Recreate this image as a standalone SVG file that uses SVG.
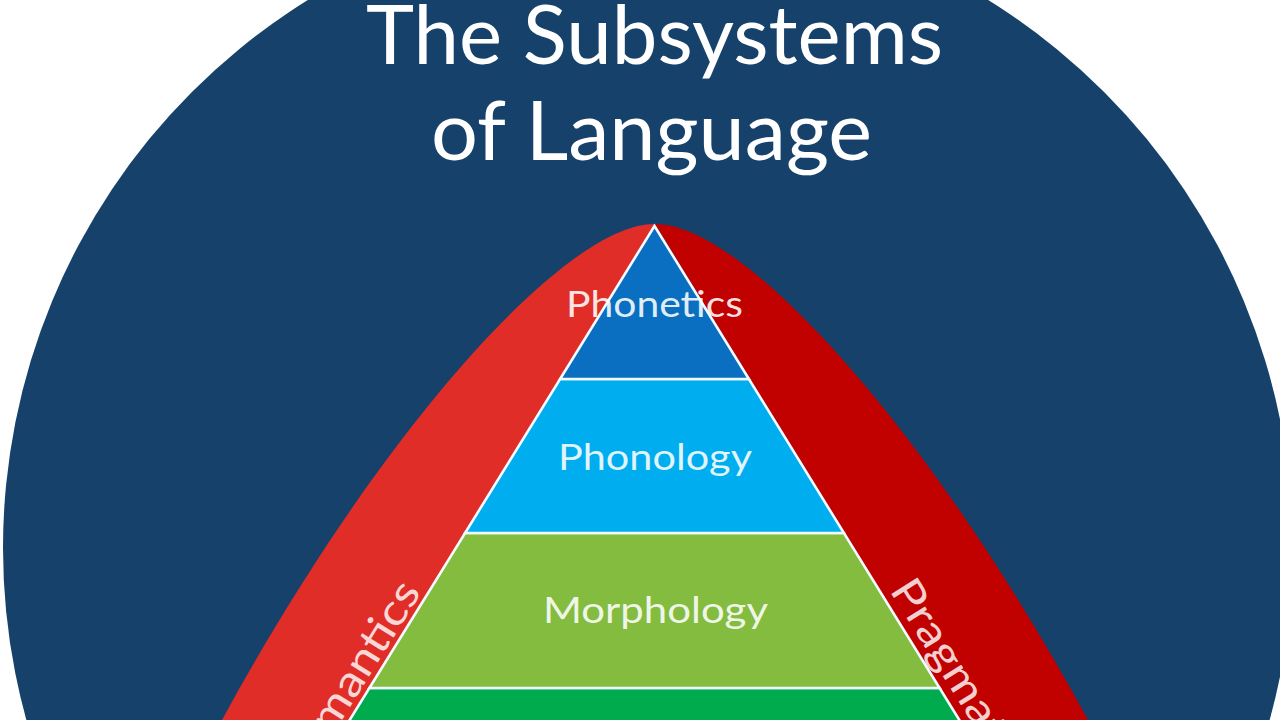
<svg xmlns="http://www.w3.org/2000/svg" width="1280" height="720" viewBox="0 0 1280 720">
  <style>
    .title { font-family: Lato, "Open Sans", "Liberation Sans", sans-serif; font-size: 81px; fill: #ffffff; }
    .label { font-family: Lato, "Open Sans", "Liberation Sans", sans-serif; font-size: 37px; fill: #ffffff; fill-opacity: 0.88; }
    .band-label { font-family: Lato, "Open Sans", "Liberation Sans", sans-serif; font-size: 43px; fill: #ffffff; fill-opacity: 0.82; }
    .layer { stroke: #f2fbff; stroke-width: 2.6; stroke-linejoin: miter; }
  </style>
  <rect x="0" y="0" width="1280" height="720" fill="#ffffff"/>
  <g id="background">
    <circle cx="648" cy="548" r="645" fill="#16416b"/>
  </g>
  <g id="title">
    <text class="title" x="366" y="64" textLength="577" lengthAdjust="spacingAndGlyphs">The Subsystems</text>
    <text class="title" x="431" y="160" textLength="441" lengthAdjust="spacingAndGlyphs">of Language</text>
  </g>
  <g id="band-semantics">
    <path d="M 655 224 C 566 223 380 430 222 720 L 218 724 L 347.2 724 Z" fill="#e12d27"/>
    <text class="band-label" x="422" y="592" text-anchor="end" transform="rotate(-58 422 592)" textLength="222" lengthAdjust="spacingAndGlyphs">Semantics</text>
  </g>
  <g id="band-pragmatics">
    <path d="M 655 224 C 744 223 930 430 1088 720 L 1092 724 L 961.8 724 Z" fill="#c10000"/>
    <text class="band-label" x="889" y="590" transform="rotate(58 889 590)" textLength="240" lengthAdjust="spacingAndGlyphs">Pragmatics</text>
  </g>
  <g id="layer-syntax">
    <polygon class="layer" points="369.4,688 939.6,688 961.8,724 347.2,724" fill="#00ab4e"/>
  </g>
  <g id="layer-morphology">
    <polygon class="layer" points="465.1,533 843.9,533 939.6,688 369.4,688" fill="#84bc40"/>
    <text class="label" x="543" y="623" textLength="225" lengthAdjust="spacingAndGlyphs">Morphology</text>
  </g>
  <g id="layer-phonology">
    <polygon class="layer" points="560.1,379 748.9,379 843.9,533 465.1,533" fill="#00adee"/>
    <text class="label" x="558" y="470" textLength="194" lengthAdjust="spacingAndGlyphs">Phonology</text>
  </g>
  <g id="layer-phonetics">
    <polygon class="layer" points="654.5,226 748.9,379 560.1,379" fill="#0a6fc0"/>
    <text class="label" x="566" y="317" textLength="177" lengthAdjust="spacingAndGlyphs">Phonetics</text>
  </g>
  <g id="connectors"/>
</svg>
